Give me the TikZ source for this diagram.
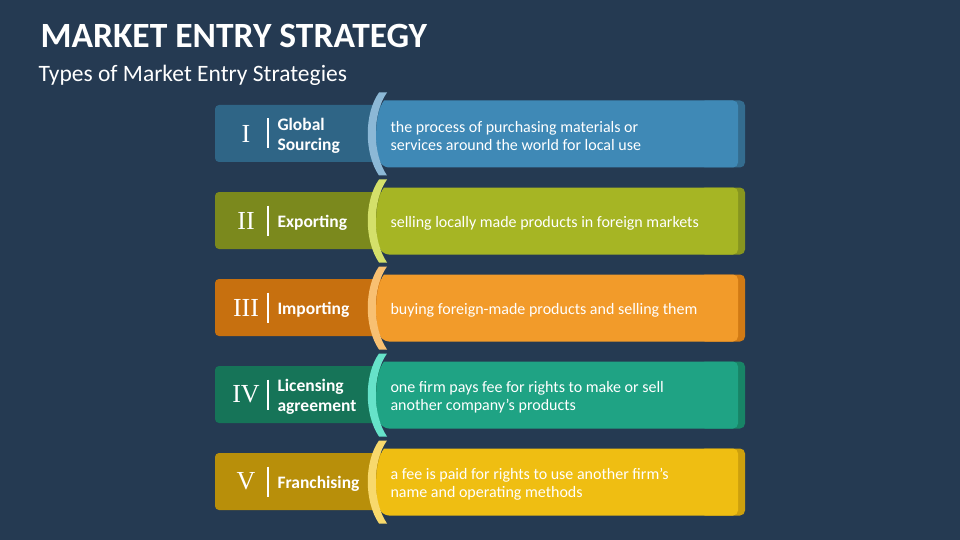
\documentclass[tikz,border=0pt]{standalone}
\usepackage{fontspec}
\setmainfont{Carlito}
\newfontfamily\numfont{Liberation Serif}
\begin{document}
\begin{tikzpicture}[x=1pt,y=-1pt,
  num/.style={text=white,font=\numfont\fontsize{26}{26}\selectfont,anchor=center},
  lbl/.style={text=white,font=\bfseries\fontsize{17.5}{20.5}\selectfont,anchor=west,align=left},
  desc/.style={text=white,font=\fontsize{16}{18.5}\selectfont,anchor=west,align=left}]
\definecolor{bg}{HTML}{253A52}
\fill[bg] (0,0) rectangle (960,540);
\useasboundingbox (0,0) rectangle (960,540);
\node[anchor=west,text=white,font=\bfseries\fontsize{35.5}{36}\selectfont] (title) at (37,36) {MARKET ENTRY STRATEGY};
\node[anchor=west,text=white,font=\fontsize{23.5}{24}\selectfont] (sub) at (35,75) {Types of Market Entry Strategies};
\newcommand{\rowitem}[8]{%
 \fill[#2,rounded corners=4] (215,#1-28.5) rectangle (385,#1+28.5);
 \fill[#5,rounded corners=5] (700,#1-33) rectangle (745,#1+34);
 \fill[#3,rounded corners=5] (384,#1-33) -- (738,#1-33) -- (738,#1+34) -- (384,#1+34) [sharp corners] .. controls (374,#1+20) and (374,#1-20) .. (384,#1-33) -- cycle;
 \fill[#4] (379,#1-41) .. controls (364,#1-20) and (364,#1+20) .. (379,#1+42) -- (387,#1+42) .. controls (372,#1+20) and (372,#1-20) .. (387,#1-41) -- cycle;
 \node[num] (n#6) at (246,#1) {#6};
 \draw[white,line width=1.2] (268,#1-15) -- (268,#1+15);
 \node[lbl] (l#6) at (274,#1+2.5) {#7};
 \node[desc] (d#6) at (387,#1+2.5) {#8};
}
\definecolor{aL}{HTML}{2F6586}\definecolor{aR}{HTML}{3F89B6}\definecolor{aB}{HTML}{8CB8D6}\definecolor{aS}{HTML}{346C8F}
\definecolor{bL}{HTML}{7B891D}\definecolor{bR}{HTML}{A6B524}\definecolor{bB}{HTML}{D4E06A}\definecolor{bS}{HTML}{87951F}
\definecolor{cL}{HTML}{C7700F}\definecolor{cR}{HTML}{F29B2A}\definecolor{cB}{HTML}{F8C072}\definecolor{cS}{HTML}{D17A14}
\definecolor{dL}{HTML}{167458}\definecolor{dR}{HTML}{1FA384}\definecolor{dB}{HTML}{66E2C9}\definecolor{dS}{HTML}{188466}
\definecolor{eL}{HTML}{B88F0A}\definecolor{eR}{HTML}{EFBE12}\definecolor{eB}{HTML}{F8D96C}\definecolor{eS}{HTML}{CDA00D}
\rowitem{133.5}{aL}{aR}{aB}{aS}{I}{Global\\Sourcing}{the process of purchasing materials or\\services around the world for local use}
\rowitem{220.5}{bL}{bR}{bB}{bS}{II}{Exporting}{selling locally made products in foreign markets}
\rowitem{307.5}{cL}{cR}{cB}{cS}{III}{Importing}{buying foreign-made products and selling them}
\rowitem{394.5}{dL}{dR}{dB}{dS}{IV}{Licensing\\agreement}{one firm pays fee for rights to make or sell\\another company's products}
\rowitem{481.5}{eL}{eR}{eB}{eS}{V}{Franchising}{a fee is paid for rights to use another firm's\\name and operating methods}
\end{tikzpicture}
\end{document}
